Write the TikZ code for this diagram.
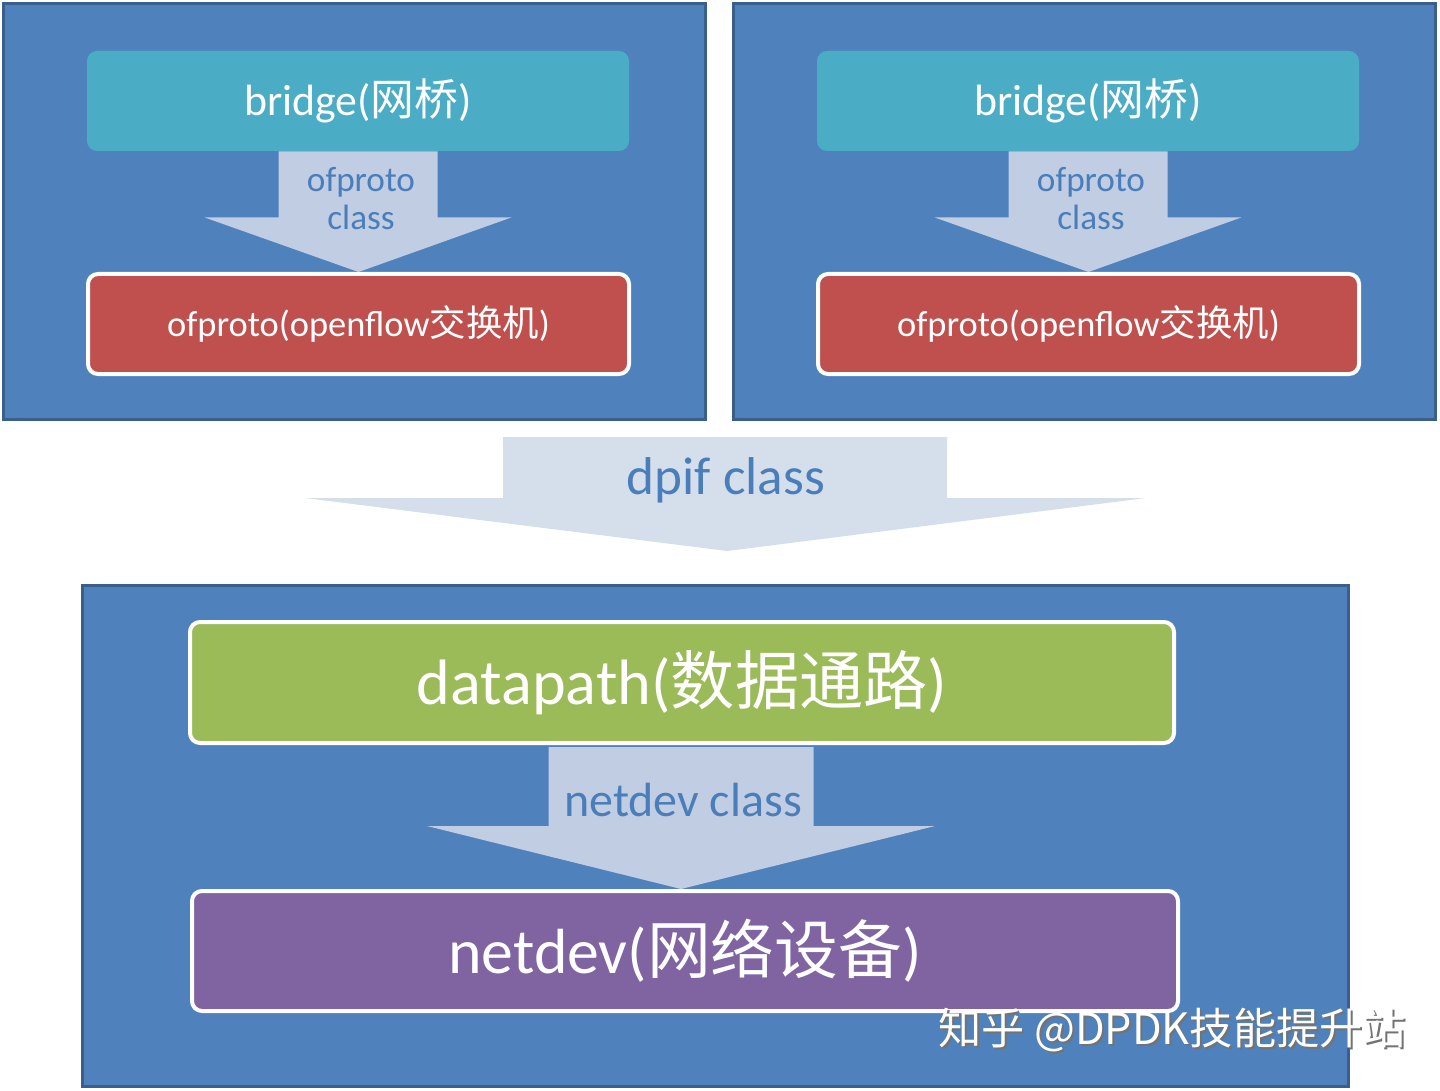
\documentclass[tikz,border=0pt]{standalone}
\usepackage{fontspec}
\setmainfont{Carlito}
\newfontfamily\cjk{Noto Sans CJK SC}
\usetikzlibrary{calc}
\definecolor{pblue}{HTML}{4F81BD}
\definecolor{pborder}{HTML}{3A5F8B}
\definecolor{bcyan}{HTML}{4BACC6}
\definecolor{bred}{HTML}{C0504D}
\definecolor{bgreen}{HTML}{9BBB59}
\definecolor{bpurple}{HTML}{8064A2}
\definecolor{arrin}{HTML}{C4D0E4}
\definecolor{arrout}{HTML}{D5DEEB}
\definecolor{arrtext}{HTML}{4A7EBB}
\tikzset{
  panel/.style={fill=pblue, draw=pborder, line width=1.5pt, inner sep=0pt},
  plainbox/.style={rounded corners=5pt, inner sep=0pt, text=white, minimum width=271pt, minimum height=50pt},
  whitebox/.style={rounded corners=5pt, draw=white, line width=2pt, inner sep=0pt, text=white},
  arrlabel/.style={text=arrtext, align=center, inner sep=0pt},
}
\begin{document}
\begin{tikzpicture}[x=0.5pt, y=-0.5pt]
\useasboundingbox (0,0) rectangle (1440,1091);
% panels
\node[panel, minimum width=351pt, minimum height=208pt] (p1) at (354.5,211.5) {};
\node[panel, minimum width=351pt, minimum height=208pt] (p2) at (1084.5,211.5) {};
\node[panel, minimum width=633pt, minimum height=250.5pt] (p3) at (715.5,836) {};
% top left
\node[plainbox, fill=bcyan, font=\fontsize{21.9}{24}\selectfont] (br1) at (358,101) {bridge({\cjk 网桥})};
\node[whitebox, fill=bred, minimum width=270.5pt, minimum height=50pt, font=\fontsize{18.2}{20}\selectfont] (of1) at (358.5,324) {ofproto(openflow{\cjk 交换机})};
% top right
\node[plainbox, fill=bcyan, font=\fontsize{21.9}{24}\selectfont] (br2) at (1088,101) {bridge({\cjk 网桥})};
\node[whitebox, fill=bred, minimum width=270.5pt, minimum height=50pt, font=\fontsize{18.2}{20}\selectfont] (of2) at (1088.5,324) {ofproto(openflow{\cjk 交换机})};
% bottom
\node[whitebox, fill=bgreen, minimum width=492pt, minimum height=60.5pt, font=\fontsize{32.1}{34}\selectfont] (dp) at (682,682.5) {datapath({\cjk 数据通路})};
\node[whitebox, fill=bpurple, minimum width=493pt, minimum height=60pt, font=\fontsize{31.9}{34}\selectfont] (nd) at (685,951) {netdev({\cjk 网络设备})};
% block arrows
\fill[arrin, opacity=0.97] ($(br1.south)+(-79.5,0)$) -- ($(br1.south)+(79.5,0)$) -- ($(br1.south)+(79.5,66)$) -- ($(br1.south)+(153.5,66)$) -- ($(of1.north)+(0,0)$) -- ($(br1.south)+(-153.5,66)$) -- ($(br1.south)+(-79.5,66)$) -- cycle;
\node[arrlabel, font=\fontsize{17.6}{19}\selectfont] (l1) at (361,199) {ofproto\\class};
\fill[arrin, opacity=0.97] ($(br2.south)+(-79.5,0)$) -- ($(br2.south)+(79.5,0)$) -- ($(br2.south)+(79.5,66)$) -- ($(br2.south)+(153.5,66)$) -- ($(of2.north)+(0,0)$) -- ($(br2.south)+(-153.5,66)$) -- ($(br2.south)+(-79.5,66)$) -- cycle;
\node[arrlabel, font=\fontsize{17.6}{19}\selectfont] (l2) at (1091,199) {ofproto\\class};
% dpif arrow
\coordinate (dtop) at (725,437);
\coordinate (dtip) at (727,551);
\fill[arrout] ($(dtop)+(-222,0)$) -- ($(dtop)+(222,0)$) -- ($(dtop)+(222,61)$) -- ($(dtop)+(421,61)$) -- (dtip) -- ($(dtop)+(-420,61)$) -- ($(dtop)+(-222,61)$) -- cycle;
\node[arrlabel, font=\fontsize{26.6}{30}\selectfont] (l3) at (726,480) {dpif class};
% netdev arrow
\fill[arrin, opacity=0.97] ($(dp.south)+(-133.5,2)$) -- ($(dp.south)+(131.5,2)$) -- ($(dp.south)+(131.5,81)$) -- ($(dp.south)+(253,81)$) -- ($(nd.north)+(-4,0)$) -- ($(dp.south)+(-255,81)$) -- ($(dp.south)+(-133.5,81)$) -- cycle;
\node[arrlabel, font=\fontsize{24}{27}\selectfont] (l4) at (683,800) {netdev class};
% watermark
\node[text=black!55, font=\cjk\fontsize{21.6}{24}\selectfont, inner sep=0pt] (wms) at (1174,1032) {知乎 @DPDK技能提升站};
\node[text=white, font=\cjk\fontsize{21.6}{24}\selectfont, inner sep=0pt] (wm) at (1172,1030) {知乎 @DPDK技能提升站};
\end{tikzpicture}
\end{document}
